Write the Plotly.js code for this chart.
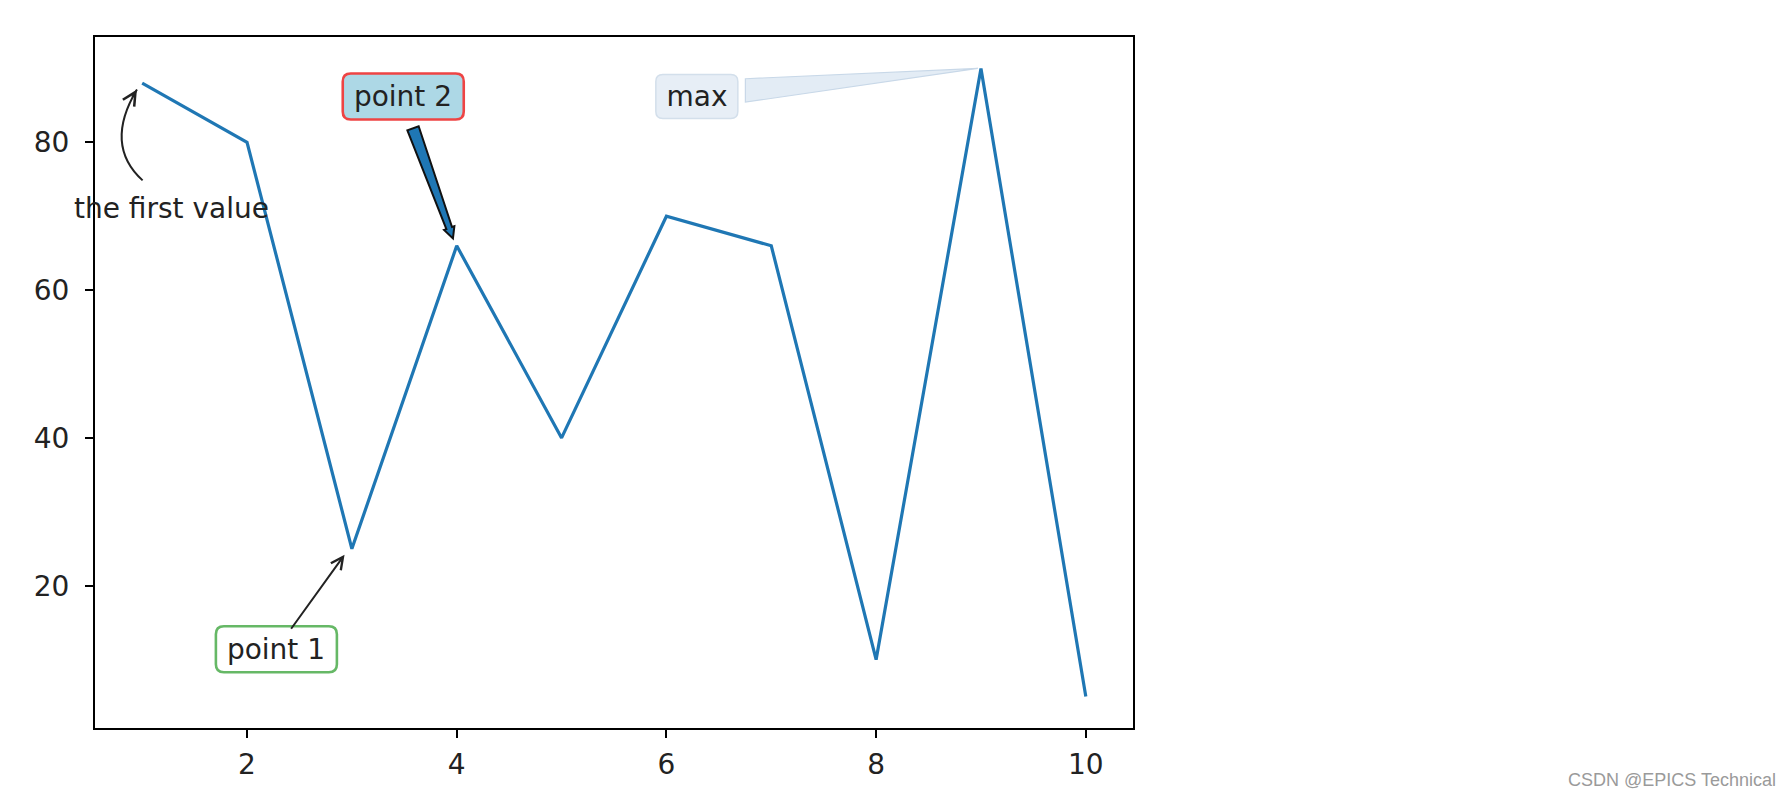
<!DOCTYPE html>
<html>
<head>
<meta charset="utf-8">
<script src="https://cdn.plot.ly/plotly-3.0.1.min.js"></script>
<style>
  html, body { margin: 0; padding: 0; background: #fff; }
  #chart { width: 1789px; height: 803px; }
</style>
</head>
<body>
<div id="chart"></div>
<script>
// series
var xs = [1, 2, 3, 4, 5, 6, 7, 8, 9, 10];
var ys = [88, 80, 25, 66, 40, 70, 66, 10, 90, 5];
var xTicks = [2, 4, 6, 8, 10];
var yTicks = [20, 40, 60, 80];

// annotation texts
var firstText = 'the first value';
var point1Text = 'point 1';
var point2Text = 'point 2';
var maxText = 'max';
var watermark = 'CSDN @EPICS Technical';

var FONT = 'DejaVu Sans, sans-serif';
var FS = 28;

var xRange = [0.55, 10.45], yRange = [0.75, 94.25];
var plotW = 1038, plotH = 691;
var pxX = plotW / (xRange[1] - xRange[0]);
var pxY = plotH / (yRange[1] - yRange[0]);

var iMax = ys.indexOf(Math.max.apply(null, ys));

// rounded box drawn in pixels round an anchor point
function roundBox(cx, cy, w, h, r, fill, line, lw) {
  var x0 = -w / 2, x1 = w / 2, y0 = -h / 2, y1 = h / 2;
  var p = 'M' + (x0 + r) + ',' + y0 +
    ' L' + (x1 - r) + ',' + y0 + ' Q' + x1 + ',' + y0 + ' ' + x1 + ',' + (y0 + r) +
    ' L' + x1 + ',' + (y1 - r) + ' Q' + x1 + ',' + y1 + ' ' + (x1 - r) + ',' + y1 +
    ' L' + (x0 + r) + ',' + y1 + ' Q' + x0 + ',' + y1 + ' ' + x0 + ',' + (y1 - r) +
    ' L' + x0 + ',' + (y0 + r) + ' Q' + x0 + ',' + y0 + ' ' + (x0 + r) + ',' + y0 + ' Z';
  return {
    type: 'path', xref: 'x', yref: 'y',
    xsizemode: 'pixel', ysizemode: 'pixel',
    xanchor: cx, yanchor: cy, path: p,
    fillcolor: fill, line: {color: line, width: lw}, layer: 'above'
  };
}

// tapered "fancy" arrow, widths in pixels, ends in data units
function fancyArrow(tail, tip, wTail, wNeck, wHead, headLen) {
  var dx = (tip[0] - tail[0]) * pxX, dy = (tip[1] - tail[1]) * pxY;
  var len = Math.sqrt(dx * dx + dy * dy);
  var ux = dx / len, uy = dy / len;     // along, pixel space (y up)
  var nx = -uy, ny = ux;                // normal
  function pt(along, side) {
    var px = along * ux + side * nx, py = along * uy + side * ny;
    return (tail[0] + px / pxX) + ',' + (tail[1] + py / pxY);
  }
  var neck = len - headLen;
  var p = 'M' + pt(0, wTail / 2) + ' L' + pt(neck, wNeck / 2) + ' L' + pt(neck, wHead / 2) +
    ' L' + pt(len, 0) + ' L' + pt(neck, -wHead / 2) + ' L' + pt(neck, -wNeck / 2) +
    ' L' + pt(0, -wTail / 2) + ' Z';
  return {
    type: 'path', xref: 'x', yref: 'y', path: p,
    fillcolor: '#1f77b4', line: {color: '#111', width: 2}, layer: 'above'
  };
}

// where the labels sit (data units)
var firstPos = [1.275, 71.1];
var p1Pos = [2.28, 11.4];
var p2Pos = [3.49, 86.2];
var maxPos = [6.29, 86.2];

var trace = {
  x: xs, y: ys, type: 'scatter', mode: 'lines',
  line: {color: '#1f77b4', width: 3.2},
  hoverinfo: 'skip'
};

// curved connector of "the first value"
var c0 = [1.004, 74.85], cc = [0.633, 79.65], c1 = [0.95, 87.15];
var curve = {
  type: 'path', xref: 'x', yref: 'y',
  path: 'M' + c0[0] + ',' + c0[1] + ' Q' + cc[0] + ',' + cc[1] + ' ' + c1[0] + ',' + c1[1],
  line: {color: '#222', width: 2}, layer: 'above'
};

// wedge from the max box to the max point
var wedge = {
  type: 'path', xref: 'x', yref: 'y',
  path: 'M6.753,88.6 L' + (xs[iMax] - 0.03) + ',' + ys[iMax] + ' L6.753,85.43 Z',
  fillcolor: '#e3ecf5', line: {color: '#c8d8e8', width: 1.2}, layer: 'below'
};

var shapes = [
  wedge,
  curve,
  fancyArrow([3.583, 81.9], [3.964, 67.0], 12, 6, 11, 11),
  roundBox(p1Pos[0], p1Pos[1], 121, 46, 8, '#ffffff', '#66b866', 2.6),
  roundBox(p2Pos[0], p2Pos[1], 121, 46, 8, '#add8e6', '#ee4444', 2.6),
  roundBox(maxPos[0], maxPos[1], 82, 44, 7, '#e7eef6', '#d3dfeb', 1.5)
];

var annotations = [
  {
    x: firstPos[0], y: firstPos[1], xref: 'x', yref: 'y',
    text: firstText, showarrow: false,
    font: {family: FONT, size: FS, color: '#222'}
  },
  // arrow head at the end of the curve
  {
    x: c1[0], y: c1[1], xref: 'x', yref: 'y',
    ax: -5.5, ay: 9, axref: 'pixel', ayref: 'pixel',
    text: '', showarrow: true, arrowhead: 5, arrowsize: 1.3,
    arrowwidth: 2, arrowcolor: '#222', standoff: 0
  },
  {
    x: 2.93, y: 24.2, xref: 'x', yref: 'y',
    ax: p1Pos[0], ay: p1Pos[1], axref: 'x', ayref: 'y',
    text: point1Text, width: 112, height: 38,
    showarrow: true, arrowhead: 5, arrowsize: 1.2, arrowwidth: 2,
    arrowcolor: '#222', standoff: 0,
    font: {family: FONT, size: FS, color: '#222'}
  },
  {
    x: p2Pos[0], y: p2Pos[1], xref: 'x', yref: 'y',
    text: point2Text, showarrow: false, width: 112, height: 38,
    font: {family: FONT, size: FS, color: '#222'}
  },
  {
    x: maxPos[0], y: maxPos[1], xref: 'x', yref: 'y',
    text: maxText, showarrow: false, width: 72, height: 38,
    font: {family: FONT, size: FS, color: '#222'}
  },
  {
    x: 1.621, y: -0.075, xref: 'paper', yref: 'paper',
    xanchor: 'right', yanchor: 'middle',
    text: watermark, showarrow: false,
    font: {family: 'Liberation Sans, Arial, sans-serif', size: 18, color: '#9a9a9a'}
  }
];

var axisCommon = {
  showgrid: false, zeroline: false,
  showline: true, mirror: true, linecolor: '#000', linewidth: 2,
  ticks: 'outside', ticklen: 8, tickwidth: 2, tickcolor: '#000',
  tickfont: {family: FONT, size: FS, color: '#222'}
};

var layout = {
  width: 1789, height: 803,
  margin: {l: 95, r: 656, t: 37, b: 75, pad: 0},
  paper_bgcolor: '#fff', plot_bgcolor: '#fff',
  showlegend: false,
  xaxis: Object.assign({}, axisCommon, {
    range: xRange, tickvals: xTicks, ticktext: xTicks.map(String),
    ticklabelstandoff: 2
  }),
  yaxis: Object.assign({}, axisCommon, {
    range: yRange, tickvals: yTicks, ticktext: yTicks.map(String),
    ticklabelstandoff: 10
  }),
  shapes: shapes,
  annotations: annotations
};

Plotly.newPlot('chart', [trace], layout, {staticPlot: true});
</script>
</body>
</html>
